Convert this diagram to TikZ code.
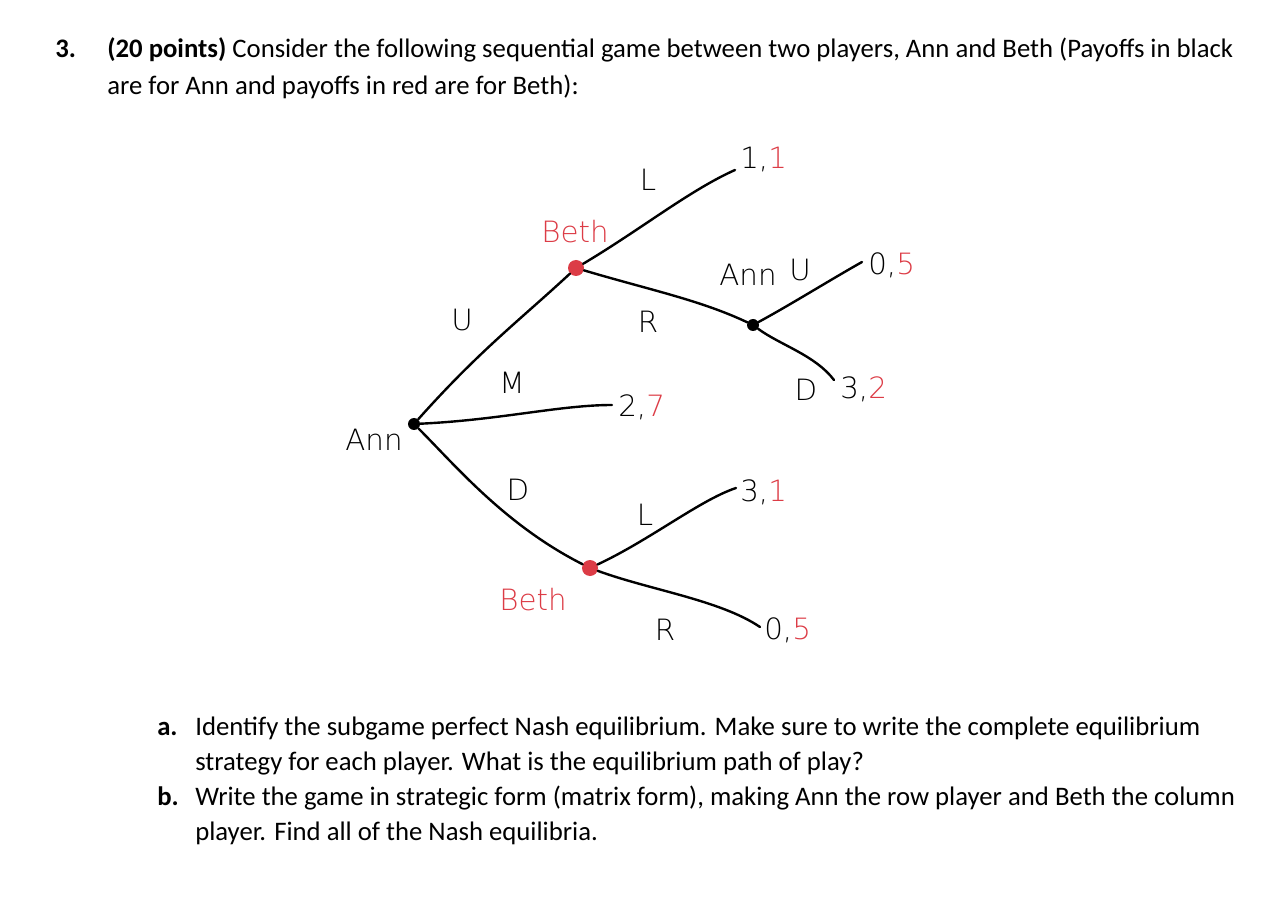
\documentclass[tikz,border=0pt]{standalone}
\usepackage{fontspec}
\setmainfont{Carlito}
\newfontfamily\hand{DejaVu Sans ExtraLight}
\definecolor{bred}{RGB}{220,60,70}
\begin{document}
\begin{tikzpicture}[x=0.75pt,y=-0.75pt,
  txt/.style={anchor=base west,inner sep=0pt,font=\fontsize{20.05}{24}\selectfont},
  lab/.style={inner sep=0pt,font=\hand\fontsize{22}{24}\selectfont},
  br/.style={line width=1.8pt,line cap=round},
  dotb/.style={circle,fill=black,inner sep=0pt,minimum size=9pt},
  dotr/.style={circle,fill=bred,inner sep=0pt,minimum size=12pt}]
\useasboundingbox (0,0) rectangle (1286,916);
\node[txt] (t1) at (55,58) {\textbf{3.}};
\node[txt] (t2) at (107,58) {\textbf{(20 points)} Consider the following sequential game between two players, Ann and Beth (Payoffs in black};
\node[txt] (t3) at (107,95) {are for Ann and payoffs in red are for Beth):};
\node[txt] (a) at (157,735) {\textbf{a.}};
\node[txt] (a1) at (195,735) {Identify the subgame perfect Nash equilibrium. Make sure to write the complete equilibrium};
\node[txt] (a2) at (195,770) {strategy for each player. What is the equilibrium path of play?};
\node[txt] (b) at (157,805) {\textbf{b.}};
\node[txt] (b1) at (195,805) {Write the game in strategic form (matrix form), making Ann the row player and Beth the column};
\node[txt] (b2) at (195,840) {player. Find all of the Nash equilibria.};
% nodes
\node[dotb] (r) at (414,424) {};
\node[dotr] (bt) at (576,268) {};
\node[dotb] (a2n) at (753,325) {};
\node[dotr] (bb) at (590,568) {};
\coordinate (e1) at (735,170);
\coordinate (e2) at (862,262);
\coordinate (e3) at (834,380);
\coordinate (e4) at (612,405);
\coordinate (e5) at (736,488);
\coordinate (e6) at (760,627);
\draw[br] (r) .. controls (480,350) and (520,320) .. (bt);
\draw[br] (r) .. controls (500,420) and (560,405) .. (e4);
\draw[br] (r) .. controls (455,465) and (505,525) .. (bb);
\draw[br] (bt) .. controls (640,230) and (690,190) .. (e1);
\draw[br] (bt) .. controls (650,290) and (700,300) .. (a2n);
\draw[br] (a2n) .. controls (790,305) and (830,280) .. (e2);
\draw[br] (a2n) .. controls (780,345) and (815,355) .. (e3);
\draw[br] (bb) .. controls (650,540) and (700,500) .. (e5);
\draw[br] (bb) .. controls (650,590) and (720,600) .. (e6);
% payoffs
\node[lab,anchor=west] (p1) at (740,160) {1,\textcolor{bred}{1}};
\node[lab,anchor=west] (p2) at (868,265) {0,\textcolor{bred}{5}};
\node[lab,anchor=west] (p3) at (840,389) {3,\textcolor{bred}{2}};
\node[lab,anchor=west] (p4) at (618,407) {2,\textcolor{bred}{7}};
\node[lab,anchor=west] (p5) at (740,492) {3,\textcolor{bred}{1}};
\node[lab,anchor=west] (p6) at (764,630) {0,\textcolor{bred}{5}};
% labels
\node[lab] (lL1) at (648,180) {L};
\node[lab,text=bred] (lB1) at (575,232) {Beth};
\node[lab] (lU1) at (462,320) {U};
\node[lab] (lR1) at (648,322) {R};
\node[lab] (lA2) at (748,275) {Ann};
\node[lab] (lU2) at (800,270) {U};
\node[lab] (lM) at (512,383) {M};
\node[lab] (lD2) at (806,390) {D};
\node[lab] (lA1) at (374,440) {Ann};
\node[lab] (lD1) at (518,490) {D};
\node[lab] (lL2) at (645,515) {L};
\node[lab,text=bred] (lB2) at (533,600) {Beth};
\node[lab] (lR2) at (665,630) {R};
\end{tikzpicture}
\end{document}
